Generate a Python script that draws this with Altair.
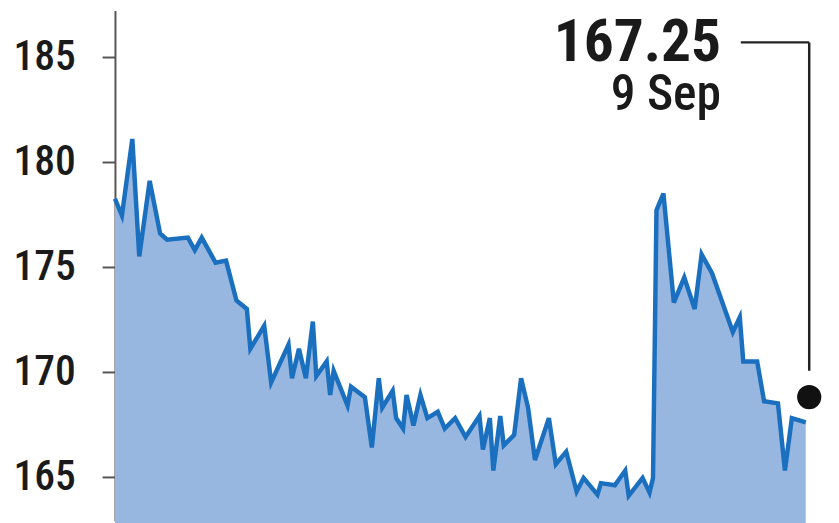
import altair as alt
import pandas as pd

# trading-day index and closing price
DAYS = [0, 2, 5, 7, 10, 13, 15, 21, 23, 25, 29, 32, 35, 38, 39, 43, 45, 50, 51,
        53, 55, 57, 58, 61, 62, 63, 67, 68, 72, 74, 76, 77, 80, 81, 83, 84, 86,
        88, 90, 93, 95, 98, 101, 105, 106, 108, 109, 111, 112, 115, 117, 119,
        121, 125, 127, 130, 133, 135, 139, 140, 144, 147, 148, 152, 154, 155,
        156, 158, 161, 164, 167, 169, 172, 178, 180, 181, 185, 187, 191, 193,
        195, 199]
PRICE = [178.25, 177.45, 181.1, 175.5, 179.1, 176.6, 176.3, 176.4, 175.8, 176.4,
         175.2, 175.3, 173.4, 173.0, 171.1, 172.2, 169.5, 171.3, 169.7, 171.1,
         169.7, 172.4, 169.8, 170.5, 168.9, 170.05, 168.4, 169.3, 168.8, 166.4,
         169.7, 168.3, 169.1, 167.8, 167.3, 168.9, 167.45, 168.9, 167.8, 168.1,
         167.3, 167.8, 166.9, 167.9, 166.3, 167.8, 165.3, 167.9, 166.5, 167.0,
         169.7, 168.3, 165.8, 167.8, 165.6, 166.2, 164.3, 164.95, 164.15, 164.7,
         164.6, 165.3, 164.1, 164.95, 164.25, 164.95, 177.7, 178.5, 173.3, 174.5,
         173.0, 175.6, 174.7, 171.9, 172.6, 170.5, 170.5, 168.6, 168.5, 165.3,
         167.8, 167.6]

Y_TICKS = [165, 170, 175, 180, 185]

LAST_LABEL = "167.25"
LAST_DATE = "9 Sep"
# annotation anchors (day, price)
DOT = (200, 168.8)
LEADER_TOP = 185.7
LEADER_BOTTOM = 170.05
LEADER_START = 180.3
LABEL_X = 174.6
LABEL_Y = [184.8, 182.5]

FONT = "Roboto Condensed, Liberation Sans Narrow, Roboto"
FILL = "#97b7e0"
LINE = "#1b6fbf"
INK = "#1a1a1a"

prices = pd.DataFrame({"day": DAYS, "price": PRICE})

x_scale = alt.Scale(domain=[0, 200], nice=False, zero=False)
x = alt.X("day:Q", axis=None, scale=x_scale)
y_scale = alt.Scale(domain=[162.92, 187.22], nice=False, zero=False)

area = alt.Chart(prices).mark_area(color=FILL, opacity=1).encode(
    x=x,
    y=alt.Y(
        "price:Q",
        scale=y_scale,
        title=None,
        axis=alt.Axis(
            values=Y_TICKS,
            grid=False,
            domainColor="#555",
            domainWidth=2,
            tickColor="#555",
            tickWidth=2,
            tickSize=13,
            labelPadding=27,
            labelFont=FONT,
            labelFontSize=42,
            labelFontWeight=500,
            labelColor=INK,
        ),
    ),
)

line = alt.Chart(prices).mark_line(color=LINE, strokeWidth=4.5, strokeJoin="miter").encode(
    x=x, y=alt.Y("price:Q", scale=y_scale)
)

leader = pd.DataFrame({
    "x": [LEADER_START, DOT[0]],
    "x2": [DOT[0], DOT[0]],
    "y": [LEADER_TOP, LEADER_TOP],
    "y2": [LEADER_TOP, LEADER_BOTTOM],
})
rules = alt.Chart(leader).mark_rule(color="#222", strokeWidth=2.5).encode(
    x=alt.X("x:Q", scale=x_scale, axis=None),
    x2="x2:Q",
    y=alt.Y("y:Q", scale=y_scale),
    y2="y2:Q",
)

dot = alt.Chart(pd.DataFrame({"day": [DOT[0]], "price": [DOT[1]]})).mark_circle(
    color="#111", opacity=1, size=600
).encode(x=x, y=alt.Y("price:Q", scale=y_scale))

labels = pd.DataFrame({
    "day": [LABEL_X, LABEL_X],
    "price": LABEL_Y,
    "text": [LAST_LABEL, LAST_DATE],
})
big = alt.Chart(labels.iloc[[0]]).mark_text(
    align="right", baseline="alphabetic", font=FONT, fontSize=60, fontWeight="bold", color=INK
).encode(x=x, y=alt.Y("price:Q", scale=y_scale), text="text:N")
small = alt.Chart(labels.iloc[[1]]).mark_text(
    align="right", baseline="alphabetic", font=FONT, fontSize=50, fontWeight=500, color=INK
).encode(x=x, y=alt.Y("price:Q", scale=y_scale), text="text:N")

chart = (
    alt.layer(area, line, rules, dot, big, small)
    .properties(
        width=701,
        height=515,
        autosize=alt.AutoSizeParams(type="none"),
        padding={"left": 108, "top": 0, "right": 22, "bottom": 0},
    )
    .configure_view(stroke=None)
)

chart.save("out.html", embed_options={"renderer": "svg", "actions": False})
